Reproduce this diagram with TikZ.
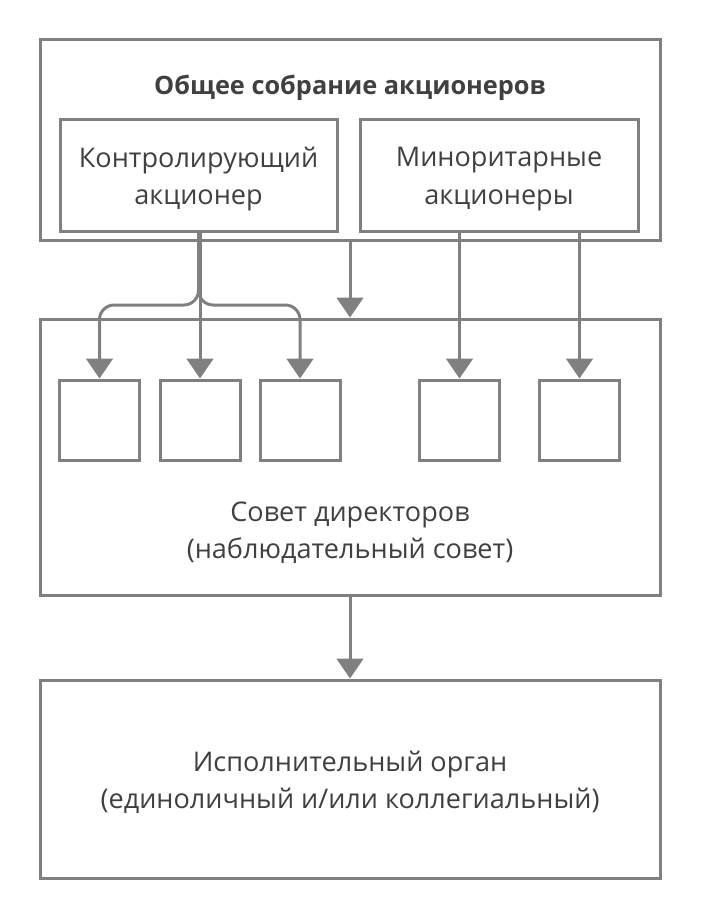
\documentclass[tikz,border=0pt]{standalone}
\usepackage{fontspec}
\setmainfont{Open Sans}
\usetikzlibrary{arrows.meta}
\definecolor{lc}{HTML}{808080}
\definecolor{tc}{HTML}{404040}
\tikzset{
  box/.style={draw=lc, line width=2.25pt, rectangle, inner sep=0pt, fill=none},
  conn/.style={draw=lc, line width=2.25pt, -{Triangle[width=20pt,length=15pt]}},
  txt/.style={text=tc, font=\fontsize{20.3}{28}\selectfont, align=center, inner sep=0pt},
}
\begin{document}
\begin{tikzpicture}[x=0.75pt,y=-0.75pt]
\useasboundingbox (0,0) rectangle (700,920);
% top
\node[box, minimum width=465pt, minimum height=150pt] (gm) at (350,140) {};
\node[txt, font=\fontsize{19}{27}\selectfont\bfseries] (gmt) at (350,88) {Общее собрание акционеров};
\node[box, minimum width=207.75pt, minimum height=83.25pt] (ctl) at (198.5,175.5) {};
\node[txt] (ctlt) at (198.5,179) {Контролирующий\\акционер};
\node[box, minimum width=208.5pt, minimum height=83.25pt] (min) at (499,175.5) {};
\node[txt] (mint) at (499,179) {Миноритарные\\акционеры};
% board
\node[box, minimum width=465pt, minimum height=207pt] (bd) at (350,457) {};
\node[txt] (bdt) at (350,533) {Совет директоров\\(наблюдательный совет)};
\node[box, minimum width=60pt, minimum height=60pt] (s1) at (99.5,420) {};
\node[box, minimum width=60pt, minimum height=60pt] (s2) at (200,420) {};
\node[box, minimum width=60pt, minimum height=60pt] (s3) at (300,420) {};
\node[box, minimum width=60pt, minimum height=60pt] (s4) at (459.5,420) {};
\node[box, minimum width=60pt, minimum height=60pt] (s5) at (579.5,420) {};
% exec
\node[box, minimum width=465pt, minimum height=148.5pt] (ex) at (350,779) {};
\node[txt] (ext) at (350,782) {Исполнительный орган\\(единоличный и/или коллегиальный)};
% connectors
\coordinate (yb) at (0,305);
\draw[conn, rounded corners=11pt] (ctl.south) -- (ctl.south |- yb) -- (s1.north |- yb) -- (s1.north);
\draw[conn, rounded corners=11pt] (ctl.south) -- (ctl.south |- yb) -- (s3.north |- yb) -- (s3.north);
\draw[conn] (ctl.south -| s2.north) -- (s2.north);
\draw[conn] (min.south -| s4.north) -- (s4.north);
\draw[conn] (min.south -| s5.north) -- (s5.north);
\draw[conn] (gm.south) -- (bd.north);
\draw[conn] (bd.south) -- (ex.north);
\end{tikzpicture}
\end{document}
